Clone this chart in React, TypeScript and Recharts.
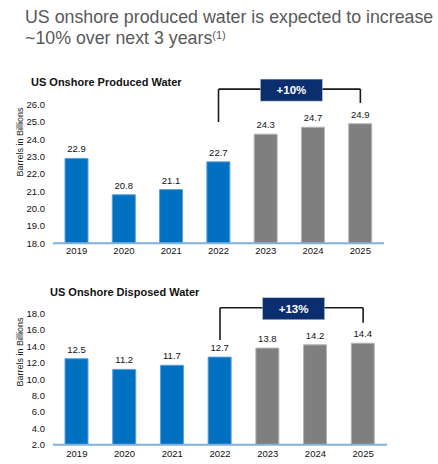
import type { CSSProperties } from "react";
import { Bar, BarChart, Cell, LabelList, ReferenceLine, XAxis, YAxis } from "recharts";

const years = ["2019", "2020", "2021", "2022", "2023", "2024", "2025"];
const forecast = [false, false, false, false, true, true, true];
const producedWater = [22.9, 20.8, 21.1, 22.7, 24.3, 24.7, 24.9];
const disposedWater = [12.5, 11.2, 11.7, 12.7, 13.8, 14.2, 14.4];
const producedTicks = [18, 19, 20, 21, 22, 23, 24, 25, 26];
const disposedTicks = [2, 4, 6, 8, 10, 12, 14, 16, 18];

const FONT = "Arial, 'Liberation Sans', sans-serif";
const BLUE = "#0070C0";
const GREY = "#7F7F7F";
const NAVY = "#0B2E6F";

const BoxLabel = (props: any) => {
  const vb = props.viewBox || { x: 0, y: 0, width: 0 };
  const cx = vb.x + vb.width / 2 + 2;
  const cy = vb.y + 1;
  return (
    <g>
      <rect x={cx - 31} y={cy - 11} width={62} height={22} fill={NAVY} stroke="#c8c8c8" strokeWidth={0.5} />
      <text x={cx} y={cy + 4} textAnchor="middle" fill="#fff" fontFamily={FONT} fontWeight={700} fontSize={11.5}>
        {props.text}
      </text>
    </g>
  );
};

type PanelProps = {
  values: number[];
  ticks: number[];
  growth: string;
  bracket: [number, number, number]; // top, left leg end, right leg end (data units)
  top: number;
  height: number;
  marginTop: number;
  marginBottom: number;
  marginRight: number;
  tickGap: number;
};

const tickStyle = { fontSize: 9.5, fill: "#111", fontFamily: FONT };

const WaterPanel = (p: PanelProps) => {
  const data = years.map((year, i) => ({ year, value: p.values[i], forecast: forecast[i] }));
  const [yTop, yLeft, yRight] = p.bracket;
  const first = years[3];
  const last = years[years.length - 1];
  const lineStyle = { stroke: "#1a1a1a", strokeWidth: 1.6, ifOverflow: "visible" as const };
  return (
    <div style={{ position: "absolute", left: 0, top: p.top }}>
      <BarChart
        width={438}
        height={p.height}
        data={data}
        margin={{ top: p.marginTop, right: p.marginRight, bottom: p.marginBottom, left: 23 }}
      >
        <XAxis
          dataKey="year"
          tickLine={false}
          tickSize={p.tickGap}
          tickMargin={0}
          height={16}
          axisLine={{ stroke: "#7FB0DE", strokeWidth: 2 }}
          tick={tickStyle}
          interval={0}
        />
        <YAxis
          width={30}
          domain={[p.ticks[0], p.ticks[p.ticks.length - 1]]}
          ticks={p.ticks}
          allowDataOverflow
          axisLine={false}
          tickLine={false}
          tickFormatter={(v: number) => v.toFixed(1)}
          tick={tickStyle}
          interval={0}
        />
        <Bar dataKey="value" barSize={23} isAnimationActive={false}>
          {data.map((d) => (
            <Cell
              key={d.year}
              fill={d.forecast ? GREY : BLUE}
              stroke={d.forecast ? "#B4B4B4" : "#5E9FD8"}
              strokeWidth={1}
            />
          ))}
          <LabelList
            dataKey="value"
            position="top"
            offset={6}
            formatter={(v: any) => Number(v).toFixed(1)}
            style={tickStyle}
          />
        </Bar>
        <ReferenceLine segment={[{ x: first, y: yTop }, { x: first, y: yLeft }]} {...lineStyle} />
        <ReferenceLine segment={[{ x: last, y: yTop }, { x: last, y: yRight }]} {...lineStyle} />
        <ReferenceLine
          segment={[{ x: first, y: yTop }, { x: last, y: yTop }]}
          {...lineStyle}
          label={<BoxLabel text={p.growth} />}
        />
      </BarChart>
    </div>
  );
};

const abs = (s: CSSProperties): CSSProperties => ({ position: "absolute", fontFamily: FONT, ...s });

const axisTitle = (top: number): CSSProperties =>
  abs({
    left: 20,
    top,
    fontSize: 9,
    color: "#222",
    whiteSpace: "nowrap",
    transform: "translate(-50%, -50%) rotate(-90deg)",
  });

export default function App() {
  return (
    <div style={{ position: "absolute", left: 0, top: 0, width: 438, height: 464, background: "#fff", overflow: "hidden" }}>
      <div style={abs({ left: 25, top: 7, fontSize: 17.8, lineHeight: "21px", color: "#595959", whiteSpace: "nowrap" })}>
        US onshore produced water is expected to increase
        <br />
        ~10% over next 3 years<sup style={{ fontSize: 11, verticalAlign: "top", lineHeight: "14px" }}>(1)</sup>
      </div>
      <div style={abs({ left: 31, top: 76, fontSize: 11, fontWeight: 700, color: "#111" })}>US Onshore Produced Water</div>
      <div style={abs({ left: 50, top: 286, fontSize: 11, fontWeight: 700, color: "#111" })}>US Onshore Disposed Water</div>
      <WaterPanel
        values={producedWater}
        ticks={producedTicks}
        growth="+10%"
        bracket={[26.9, 25.0, 26.1]}
        top={70}
        height={200}
        marginTop={34.7}
        marginBottom={10.7}
        marginRight={54}
        tickGap={4}
      />
      <WaterPanel
        values={disposedWater}
        ticks={disposedTicks}
        growth="+13%"
        bracket={[18.73, 14.8, 16.9]}
        top={280}
        height={184}
        marginTop={33.7}
        marginBottom={3.3}
        marginRight={51}
        tickGap={6}
      />
      <div style={axisTitle(142)}>Barrels in Billions</div>
      <div style={axisTitle(352)}>Barrels in Billions</div>
    </div>
  );
}
